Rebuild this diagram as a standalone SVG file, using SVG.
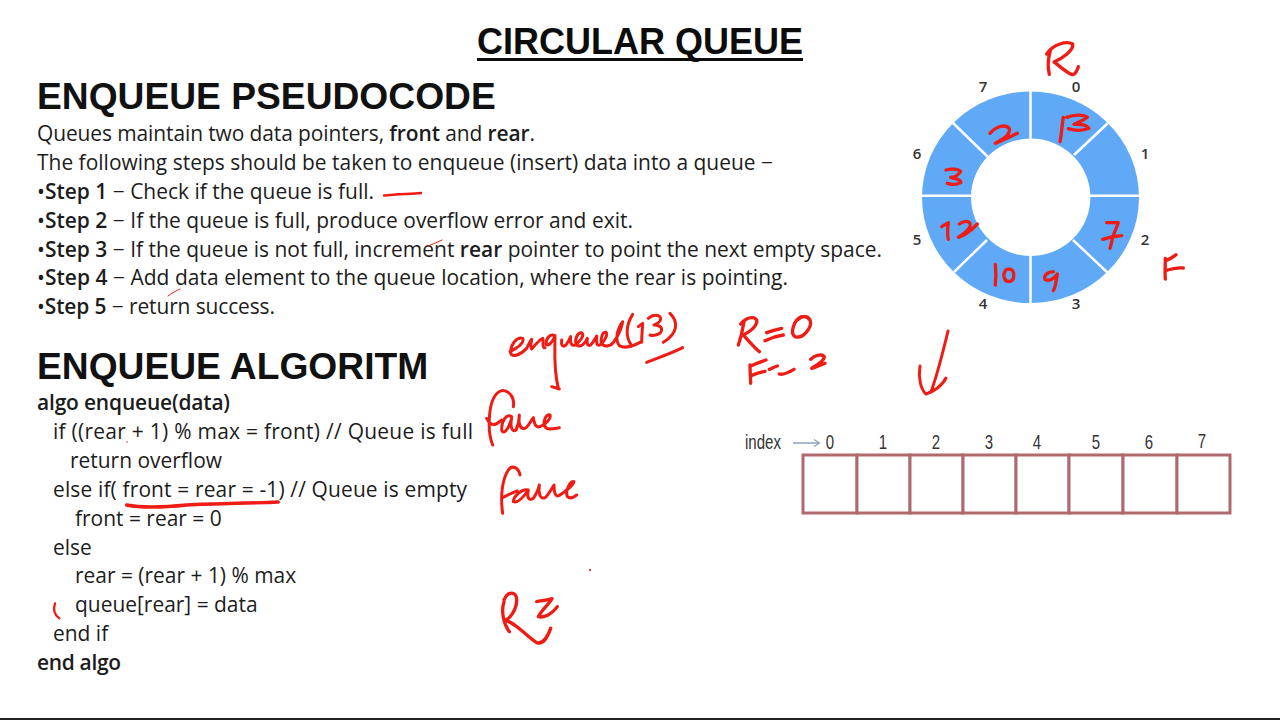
<svg xmlns="http://www.w3.org/2000/svg" width="1280" height="720" viewBox="0 0 1280 720">
<style>
text{font-family:"Open Sans","Noto Sans","Liberation Sans",sans-serif;fill:#1c1c1c}
.b{font-size:20.950px}
.s{font-weight:600}
.t{font-family:"Liberation Sans",Arial,sans-serif;font-weight:700;font-size:36px;fill:#0c0c0c}
.h{font-family:"Liberation Sans",Arial,sans-serif;font-weight:700;font-size:37.200px;fill:#111}
.n{font-size:15px;font-weight:600;text-anchor:middle;fill:#333}
.i{font-family:"Liberation Sans",Arial,sans-serif;font-size:20px;text-anchor:middle;fill:#333}
.pen{fill:none;stroke:#ee1c14;stroke-linecap:round;stroke-linejoin:round}
.z{stroke-width:10}
.cell{fill:#fff;stroke:#b06a6c;stroke-width:3}
.seg{stroke:#fff;stroke-width:2.500}
</style>
<rect width="1280" height="720" fill="#fff"/>
<rect x="0" y="718" width="1280" height="2" fill="#222"/>

<g id="title">
<text x="640" y="54" text-anchor="middle" class="t">CIRCULAR QUEUE</text>
<rect x="477" y="58" width="326" height="3" fill="#0c0c0c"/>
</g>

<g id="pseudocode">
<text x="37" y="109" class="h">ENQUEUE PSEUDOCODE</text>
<text x="37" y="140.500" class="b" textLength="498">Queues maintain two data pointers, <tspan class="s">front</tspan> and <tspan class="s">rear</tspan>.</text>
<text x="37" y="169.500" class="b" textLength="736">The following steps should be taken to enqueue (insert) data into a queue −</text>
<text x="37" y="198.500" class="b" textLength="337">•<tspan class="s">Step 1</tspan> − Check if the queue is full.</text>
<text x="37" y="227.500" class="b" textLength="596">•<tspan class="s">Step 2</tspan> − If the queue is full, produce overflow error and exit.</text>
<text x="37" y="256.500" class="b" textLength="845">•<tspan class="s">Step 3</tspan> − If the queue is not full, increment <tspan class="s">rear</tspan> pointer to point the next empty space.</text>
<text x="37" y="284.500" class="b" textLength="751">•<tspan class="s">Step 4</tspan> − Add data element to the queue location, where the rear is pointing.</text>
<text x="37" y="313.500" class="b" textLength="238">•<tspan class="s">Step 5</tspan> − return success.</text>
</g>

<g id="algorithm">
<text x="37" y="379" class="h">ENQUEUE ALGORITM</text>
<text x="37" y="409.500" class="b s" textLength="193">algo enqueue(data)</text>
<text x="53" y="438.500" class="b" textLength="420">if ((rear  + 1) % max = front) // Queue is full</text>
<text x="70" y="467.500" class="b">return overflow</text>
<text x="53" y="496.500" class="b" textLength="414">else if( front = rear = -1) // Queue is empty</text>
<text x="75" y="525.500" class="b">front = rear = 0</text>
<text x="53" y="554.500" class="b">else</text>
<text x="75" y="582.500" class="b">rear = (rear + 1) % max</text>
<text x="75" y="611.500" class="b">queue[rear] = data</text>
<text x="53" y="640.500" class="b">end if</text>
<text x="37" y="669.500" class="b s" textLength="84">end algo</text>
</g>

<g id="ring">
<path fill="#60a9f7" fill-rule="evenodd" d="M922 197.300a108.500 105.800 0 1 0 217 0a108.500 105.800 0 1 0 -217 0ZM971 197.300a59.700 58.700 0 1 0 119.400 0a59.700 58.700 0 1 0 -119.400 0Z"/>
<line class="seg" x1="1030.500" y1="90" x2="1030.500" y2="139"/>
<line class="seg" x1="1030.500" y1="256" x2="1030.500" y2="305"/>
<line class="seg" x1="921" y1="195.700" x2="971" y2="195.700"/>
<line class="seg" x1="1090" y1="195.700" x2="1140" y2="195.700"/>
<line class="seg" x1="953" y1="123" x2="988" y2="157"/>
<line class="seg" x1="1073" y1="240" x2="1108" y2="273"/>
<line class="seg" x1="1108" y1="123" x2="1074" y2="155"/>
<line class="seg" x1="987" y1="240" x2="954" y2="272"/>
<text class="n" x="1076" y="92">0</text>
<text class="n" x="1145" y="159">1</text>
<text class="n" x="1145" y="245">2</text>
<text class="n" x="1076" y="309">3</text>
<text class="n" x="983" y="309">4</text>
<text class="n" x="917" y="245">5</text>
<text class="n" x="917" y="159">6</text>
<text class="n" x="983" y="92">7</text>
</g>

<g id="array">
<rect class="cell" x="803" y="455" width="54" height="58"/>
<rect class="cell" x="857" y="455" width="53" height="58"/>
<rect class="cell" x="910" y="455" width="53" height="58"/>
<rect class="cell" x="963" y="455" width="53" height="58"/>
<rect class="cell" x="1016" y="455" width="53" height="58"/>
<rect class="cell" x="1069" y="455" width="54" height="58"/>
<rect class="cell" x="1123" y="455" width="54" height="58"/>
<rect class="cell" x="1177" y="455" width="53" height="58"/>
<text x="763" y="449" class="i" textLength="36" lengthAdjust="spacingAndGlyphs">index</text>
<text class="i" transform="translate(830,449) scale(.75,1)">0</text>
<text class="i" transform="translate(883,449) scale(.75,1)">1</text>
<text class="i" transform="translate(936,449) scale(.75,1)">2</text>
<text class="i" transform="translate(989,449) scale(.75,1)">3</text>
<text class="i" transform="translate(1037,449) scale(.75,1)">4</text>
<text class="i" transform="translate(1096,449) scale(.75,1)">5</text>
<text class="i" transform="translate(1149,449) scale(.75,1)">6</text>
<text class="i" transform="translate(1202,448) scale(.75,1)">7</text>
</g>

<g id="connectors">
<path d="M793 443H819M814 439.500L819.500 443L814 446.500" fill="none" stroke="#8fa3bb" stroke-width="1.300"/>
</g>

<g id="ink">
<g transform="translate(890,30) scale(.33333)" class="pen z">
<path d="M482 58C474 85 472 110 478 133M470 72C490 42 530 32 548 42C552 62 515 86 492 96C510 108 530 130 548 134C556 132 562 120 565 110"/>
<path d="M520 262C515 290 515 315 510 335M530 262C550 255 580 252 592 262C580 272 562 278 552 283C575 282 590 285 597 295C580 302 555 302 535 296"/>
<path d="M300 310C318 290 345 280 358 296C362 318 335 328 316 340C335 332 360 322 382 310"/>
<path d="M168 420C185 415 205 417 212 424C205 436 190 444 182 442C200 445 213 452 212 458C202 464 185 464 172 460"/>
<path d="M155 590L175 578C172 600 172 615 175 628M208 582C225 570 245 572 240 590C232 605 215 615 205 622C225 615 245 600 262 582"/>
<path d="M316 703C318 725 318 745 316 765M345 724C338 735 342 755 358 755C375 752 375 724 362 718C352 716 347 718 345 724Z"/>
<path d="M490 725C475 725 460 735 465 748C475 755 492 748 502 732C498 750 498 770 490 782"/>
<path d="M650 578L685 578C675 600 665 630 660 655M638 628C655 622 675 618 695 617"/>
<path d="M826 685C826 710 824 730 826 747M826 692C840 688 850 680 858 674M826 722C845 716 865 712 880 714"/>
</g>
<g transform="translate(500,305) scale(.33333)" class="pen" stroke-width="9">
<path d="M30 140C50 130 75 115 68 100C50 95 30 120 32 145C38 158 60 150 80 130C88 115 92 105 95 103C93 115 90 130 95 132C105 120 120 103 128 100C132 110 125 130 135 128"/>
<path d="M165 92C150 85 138 100 138 118C145 125 160 110 165 92C165 140 160 190 175 250M155 245L178 252"/>
<path d="M185 105C183 120 187 128 198 120C205 110 210 100 212 95C210 110 212 125 225 120C240 110 255 90 245 83C232 82 222 105 230 120C240 128 255 118 262 100C260 115 262 125 272 120C282 110 285 100 290 93C288 110 290 125 300 120C312 110 325 90 318 82C308 80 300 100 305 115C312 128 335 125 345 105C355 90 366 65 368 50C350 75 345 105 358 122C375 132 395 125 420 112"/>
<path d="M398 28C378 60 375 95 395 122"/>
<path d="M415 65L428 55C427 75 425 95 425 112"/>
<path d="M445 40C462 25 490 30 480 48C475 55 470 57 462 60C480 60 492 70 480 85C470 92 455 92 450 90"/>
<path d="M510 25C535 50 535 85 490 112"/>
<path d="M440 172C470 160 515 145 548 128"/>
</g>
<g transform="translate(490,300) scale(.33333)" class="pen z">
<path d="M762 65C758 90 752 115 745 135M752 72C775 45 805 50 800 68C795 85 770 100 760 105C778 125 795 145 808 155M830 98C845 92 860 88 875 85M825 122C845 112 860 108 880 105M935 50C910 60 900 100 915 110C940 118 968 80 960 60C950 45 935 48 925 58"/>
<path d="M780 195C780 215 782 235 782 250M782 198C800 190 815 185 828 180M785 226C800 220 815 216 825 214M838 208C848 204 855 200 862 198M868 222C880 226 900 215 912 208M962 178C975 165 1000 160 1003 172C1000 185 980 195 965 205C975 202 990 195 1005 190"/>
</g>
<g transform="translate(480,385) scale(.33333)" class="pen" stroke-width="9">
<path d="M100 65C105 35 85 15 65 17C40 25 30 60 28 100C26 130 30 160 38 180M20 100C35 130 50 118 65 105"/>
<path d="M95 95C80 85 65 105 65 135C70 150 85 135 95 100C90 120 95 145 108 135C115 120 118 105 118 90C115 110 118 135 135 130C145 125 150 110 160 98C162 110 165 130 180 125C195 120 215 100 210 90C195 85 185 120 200 130C210 135 225 130 238 128"/>
<path d="M120 270C115 245 95 240 85 255C68 280 60 330 68 385M65 340C85 328 100 322 112 318"/>
<path d="M145 315C125 310 100 335 100 350C115 355 135 330 145 315C140 335 145 350 160 340C170 325 175 315 178 300C175 320 178 345 195 338C205 330 215 310 222 300C222 320 225 340 240 330C255 320 280 300 282 290C270 285 255 320 262 335C270 342 280 338 290 330"/>
</g>
<path class="pen" stroke-width="3" d="M948 331C943 352 937 375 931 392M920 366C918 378 921 390 926 394C933 392 942 386 946 378"/>
<g transform="translate(30,390) scale(.33333)" class="pen z">
<path d="M290 345C340 355 400 352 470 345C560 340 650 340 745 336"/>
<path d="M75 640C70 655 70 672 88 685" stroke-width="7"/>
</g>
<g transform="translate(480,550) scale(.33333)" class="pen z">
<path d="M72 155C62 185 72 225 88 245M72 150C85 120 110 125 110 150C110 180 90 205 75 212C105 215 140 260 170 278C190 285 205 255 212 235"/>
<path d="M170 155C185 152 205 150 216 146C205 165 185 180 175 200C195 205 218 190 232 170"/>
</g>
<path class="pen" stroke-width="2.500" d="M384 195.500C396 194 410 194 421 193"/>
<path class="pen" stroke-width="1" d="M168 296C172 293 176 291 180 289M428 246C433 244 438 242 442 240"/>
<circle cx="590" cy="570" r="1.200" fill="#d9404a"/>
<circle cx="127" cy="442" r=".8" fill="#a44"/>
</g>
</svg>
